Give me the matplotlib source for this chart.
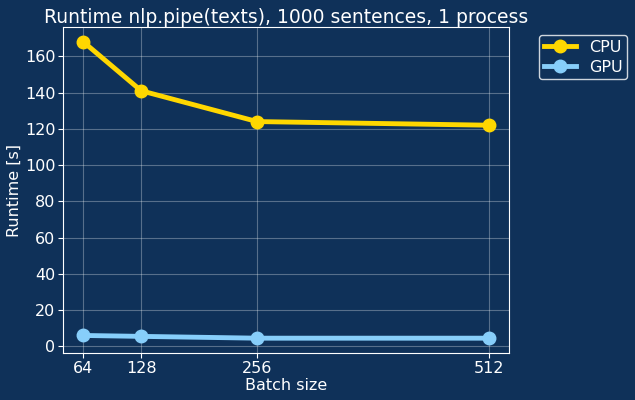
import matplotlib
matplotlib.use("Agg")
import matplotlib.pyplot as plt

batch = [64, 128, 256, 512]
cpu = [168, 141, 124, 122]
gpu = [6, 5.5, 4.5, 4.5]
bg = "#0f3159"

fig = plt.figure(figsize=(6.35, 4.0), dpi=100, facecolor=bg)
ax = fig.add_axes([63/635, 47/400, 446/635, 326/400], facecolor=bg)
ax.plot(batch, cpu, color="#FFD700", lw=3.5, marker="o", ms=9, label="CPU")
ax.plot(batch, gpu, color="#87CEFA", lw=3.5, marker="o", ms=9, label="GPU")
ax.set_xticks(batch)
ax.grid(True, color="white", alpha=0.3, lw=0.8)
for s in ax.spines.values():
    s.set_color("white")
ax.tick_params(colors="white", labelsize=11.5, pad=2)
ax.set_xlabel("Batch size", color="white", fontsize=11.5, labelpad=2)
ax.set_ylabel("Runtime [s]", color="white", fontsize=11.5, labelpad=2)
ax.set_title("Runtime nlp.pipe(texts), 1000 sentences, 1 process", color="white", fontsize=13.5, pad=3)
leg = ax.legend(loc="upper left", bbox_to_anchor=(1.05, 1.0), fontsize=11.5, facecolor=bg,
                edgecolor="white", handlelength=2.0, borderpad=0.3, labelspacing=0.3)
for t in leg.get_texts():
    t.set_color("white")
fig.savefig("out.png", dpi=100, facecolor=bg)
